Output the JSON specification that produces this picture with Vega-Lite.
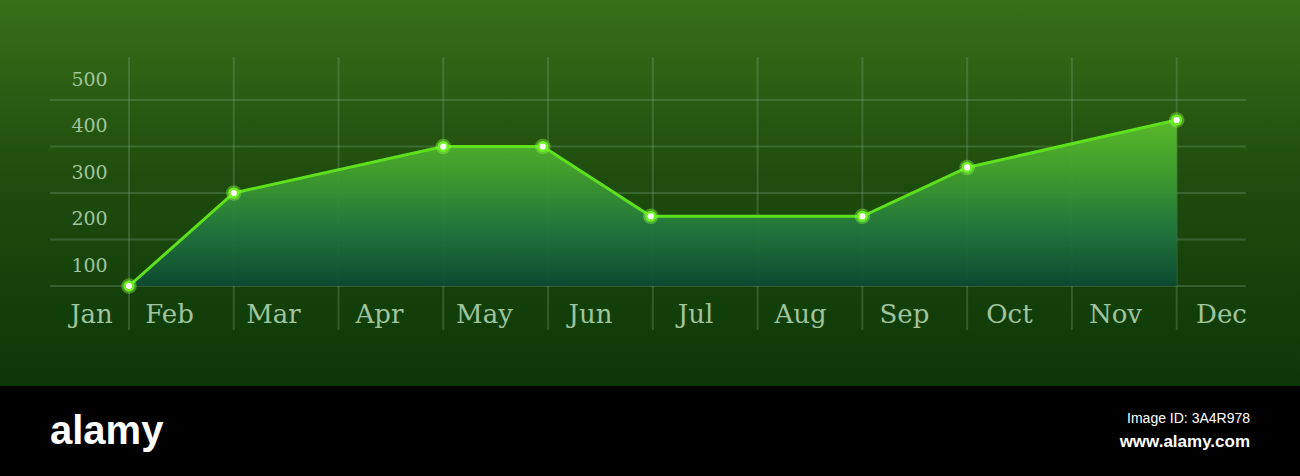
{
  "$schema": "https://vega.github.io/schema/vega-lite/v6.json",
  "width": 1300,
  "height": 476,
  "padding": 0,
  "autosize": {"type": "none"},
  "background": "#000000",
  "config": {"view": {"stroke": null}},
  "datasets": {
    "series": [
      {"pos": 1, "value": 100},
      {"pos": 2, "value": 300},
      {"pos": 4, "value": 400},
      {"pos": 4.95, "value": 400},
      {"pos": 5.98, "value": 250},
      {"pos": 8, "value": 250},
      {"pos": 9, "value": 355},
      {"pos": 11, "value": 457}
    ],
    "hgrid": [{"v": 100}, {"v": 200}, {"v": 300}, {"v": 400}, {"v": 500}],
    "vgrid": [{"g": 1}, {"g": 2}, {"g": 3}, {"g": 4}, {"g": 5}, {"g": 6}, {"g": 7}, {"g": 8}, {"g": 9}, {"g": 10}, {"g": 11}]
  },
  "layer": [
    {
      "data": {"values": [{}]},
      "mark": {
        "type": "rect",
        "fill": {
          "gradient": "linear", "x1": 0, "y1": 0, "x2": 0, "y2": 1,
          "stops": [
            {"offset": 0, "color": "#387018"},
            {"offset": 0.45, "color": "#1f4d0e"},
            {"offset": 1, "color": "#0b3706"}
          ]
        }
      },
      "encoding": {
        "x": {
          "datum": -0.2313, "type": "quantitative",
          "scale": {"domain": [-0.2313, 12.177], "nice": false, "zero": false},
          "axis": {
            "orient": "bottom", "zindex": 2,
            "values": [0.637, 1.382, 2.374, 3.386, 4.388, 5.4, 6.402, 7.405, 8.397, 9.399, 10.411, 11.423],
            "labelExpr": "['Jan','Feb','Mar','Apr','May','Jun','Jul','Aug','Sep','Oct','Nov','Dec'][floor(datum.value)]",
            "grid": false, "domain": false, "ticks": false,
            "labelPadding": -162, "labelBaseline": "middle", "labelAlign": "center",
            "labelFont": "DejaVu Serif", "labelFontSize": 26, "labelColor": "#a0c49c",
            "labelFlush": false, "labelOverlap": false, "title": null
          }
        },
        "x2": {"datum": 12.177},
        "y": {
          "datum": -115.05, "type": "quantitative",
          "scale": {"domain": [-308.6, 715.05], "nice": false, "zero": false},
          "axis": {
            "orient": "left", "zindex": 2,
            "values": [100, 200, 300, 400, 500],
            "grid": false, "domain": false, "ticks": false,
            "labelPadding": -89, "labelAlign": "center", "labelBaseline": "middle", "labelOffset": -20.5,
            "labelFont": "DejaVu Serif", "labelFontSize": 19, "labelColor": "#a0c49c",
            "labelFlush": false, "labelOverlap": false, "title": null
          }
        },
        "y2": {"datum": 715.05}
      }
    },
    {
      "data": {"name": "hgrid"},
      "mark": {"type": "rule", "stroke": "#7fae88", "strokeOpacity": 0.28, "strokeWidth": 2},
      "encoding": {
        "y": {"field": "v", "type": "quantitative"},
        "x": {"datum": 0.246, "type": "quantitative"},
        "x2": {"datum": 11.66}
      }
    },
    {
      "data": {"name": "vgrid"},
      "mark": {"type": "rule", "stroke": "#7fae88", "strokeOpacity": 0.28, "strokeWidth": 2},
      "encoding": {
        "x": {"field": "g", "type": "quantitative"},
        "y": {"datum": 5.4, "type": "quantitative"},
        "y2": {"datum": 592.5}
      }
    },
    {
      "data": {"name": "series"},
      "mark": {
        "type": "area",
        "fill": {
          "gradient": "linear", "x1": 0, "y1": 0, "x2": 0, "y2": 1,
          "stops": [
            {"offset": 0, "color": "#5cbf2a"},
            {"offset": 0.35, "color": "#3f9c30"},
            {"offset": 0.65, "color": "#22783e"},
            {"offset": 1, "color": "#0d4a33"}
          ]
        },
        "fillOpacity": 0.95
      },
      "encoding": {
        "x": {"field": "pos", "type": "quantitative"},
        "y": {"field": "value", "type": "quantitative"},
        "y2": {"datum": 100}
      }
    },
    {
      "data": {"name": "series"},
      "mark": {"type": "line", "stroke": "#5fe01c", "strokeWidth": 3},
      "encoding": {
        "x": {"field": "pos", "type": "quantitative"},
        "y": {"field": "value", "type": "quantitative"}
      }
    },
    {
      "data": {"name": "series"},
      "mark": {"type": "point", "filled": true, "fill": "#8aff40", "opacity": 0.4, "size": 240},
      "encoding": {
        "x": {"field": "pos", "type": "quantitative"},
        "y": {"field": "value", "type": "quantitative"}
      }
    },
    {
      "data": {"name": "series"},
      "mark": {"type": "point", "filled": true, "fill": "#ffffff", "stroke": "#6cf020", "strokeWidth": 2.5, "opacity": 1, "size": 75},
      "encoding": {
        "x": {"field": "pos", "type": "quantitative"},
        "y": {"field": "value", "type": "quantitative"}
      }
    },
    {
      "data": {"values": [{"label": "alamy"}]},
      "mark": {"type": "text", "font": "Liberation Sans", "fontWeight": "bold", "fontSize": 40, "color": "#ffffff", "align": "left", "baseline": "alphabetic"},
      "encoding": {
        "text": {"field": "label"},
        "x": {"datum": 0.246, "type": "quantitative"},
        "y": {"datum": -239.8, "type": "quantitative"}
      }
    },
    {
      "data": {"values": [{"label": "Image ID: 3A4R978"}]},
      "mark": {"type": "text", "font": "Liberation Sans", "fontSize": 14, "color": "#ffffff", "align": "right", "baseline": "alphabetic"},
      "encoding": {
        "text": {"field": "label"},
        "x": {"datum": 11.70, "type": "quantitative"},
        "y": {"datum": -194.6, "type": "quantitative"}
      }
    },
    {
      "data": {"values": [{"label": "www.alamy.com"}]},
      "mark": {"type": "text", "font": "Liberation Sans", "fontWeight": "bold", "fontSize": 17, "color": "#ffffff", "align": "right", "baseline": "alphabetic"},
      "encoding": {
        "text": {"field": "label"},
        "x": {"datum": 11.70, "type": "quantitative"},
        "y": {"datum": -246.2, "type": "quantitative"}
      }
    }
  ]
}
